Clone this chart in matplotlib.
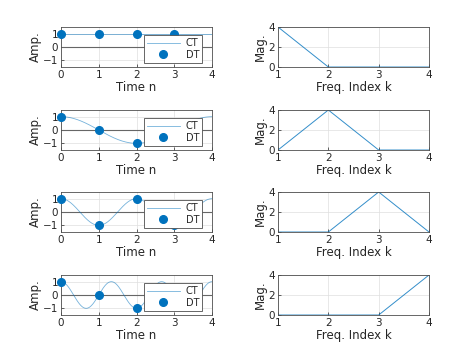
import numpy as np
import matplotlib
matplotlib.use('Agg')
import matplotlib.pyplot as plt

# DT samples
n_dt = [0, 1, 2, 3]
dt_1 = [1, 1, 1, 1]
dt_2 = [1, 0, -1, 0]
dt_3 = [1, -1, 1, -1]
dt_4 = [1, 0, -1, 0]

# CT curves are cosines; cycles per 4 time units for each row
ct_cycles = [0, 1, 2, 3]

# DFT magnitudes
k_idx = [1, 2, 3, 4]
mag_1 = [4, 0, 0, 0]
mag_2 = [0, 4, 0, 0]
mag_3 = [0, 0, 4, 0]
mag_4 = [0, 0, 0, 4]

dt_rows = [dt_1, dt_2, dt_3, dt_4]
mag_rows = [mag_1, mag_2, mag_3, mag_4]

blue = '#0072BD'
txt = '#262626'
plt.rcParams['font.family'] = 'DejaVu Sans'
plt.rcParams['text.color'] = txt
plt.rcParams['axes.labelcolor'] = txt
plt.rcParams['xtick.color'] = txt
plt.rcParams['ytick.color'] = txt

fig = plt.figure(figsize=(4.74, 3.55), dpi=100)
W, H = 474.0, 355.0
tops = [27, 110, 192, 275]
ax_h = 40

def style(ax):
    for s in ax.spines.values():
        s.set_color('#4d4d4d')
        s.set_linewidth(0.6)
    ax.tick_params(direction='in', length=2, width=0.5, labelsize=7.5, pad=2)
    ax.grid(True, color='#dedede', linewidth=0.5)
    ax.set_axisbelow(True)

for i in range(4):
    bottom = 1 - (tops[i] + ax_h) / H
    # left: CT + DT
    ax = fig.add_axes([61 / W, bottom, 151 / W, ax_h / H])
    style(ax)
    t = np.linspace(0, 4, 400)
    ax.axhline(0, color='#666666', linewidth=0.8, zorder=1)
    ax.plot(t, np.cos(2 * np.pi * ct_cycles[i] * t / 4), color=blue,
            linewidth=0.6, alpha=0.55, label='CT', zorder=2)
    ax.plot(n_dt, dt_rows[i], 'o', color=blue, markersize=5.5, label='DT',
            zorder=3, clip_on=False)
    ax.set_xlim(0, 4)
    ax.set_ylim(-1.5, 1.5)
    ax.set_xticks([0, 1, 2, 3, 4])
    ax.set_yticks([-1, 0, 1])
    ax.set_xlabel('Time n', fontsize=8.5, labelpad=1)
    ax.set_ylabel('Amp.', fontsize=8.5, labelpad=1)
    leg = ax.legend(loc='upper right', bbox_to_anchor=(0.934, 0.8), fontsize=7,
                    handlelength=3.4, handletextpad=0.6, borderpad=0.3,
                    labelspacing=0.2, fancybox=False, framealpha=1,
                    borderaxespad=0)
    leg.get_frame().set_edgecolor('#4d4d4d')
    leg.get_frame().set_linewidth(0.6)
    leg.set_zorder(5)

    # right: DFT magnitude
    ax2 = fig.add_axes([278 / W, bottom, 151 / W, ax_h / H])
    style(ax2)
    ax2.plot(k_idx, mag_rows[i], color=blue, linewidth=0.7, alpha=0.8)
    ax2.set_xlim(1, 4)
    ax2.set_ylim(0, 4)
    ax2.set_xticks([1, 2, 3, 4])
    ax2.set_yticks([0, 2, 4])
    ax2.set_xlabel('Freq. Index k', fontsize=8.5, labelpad=1)
    ax2.set_ylabel('Mag.', fontsize=8.5, labelpad=1)

fig.savefig('out.png', dpi=100)
